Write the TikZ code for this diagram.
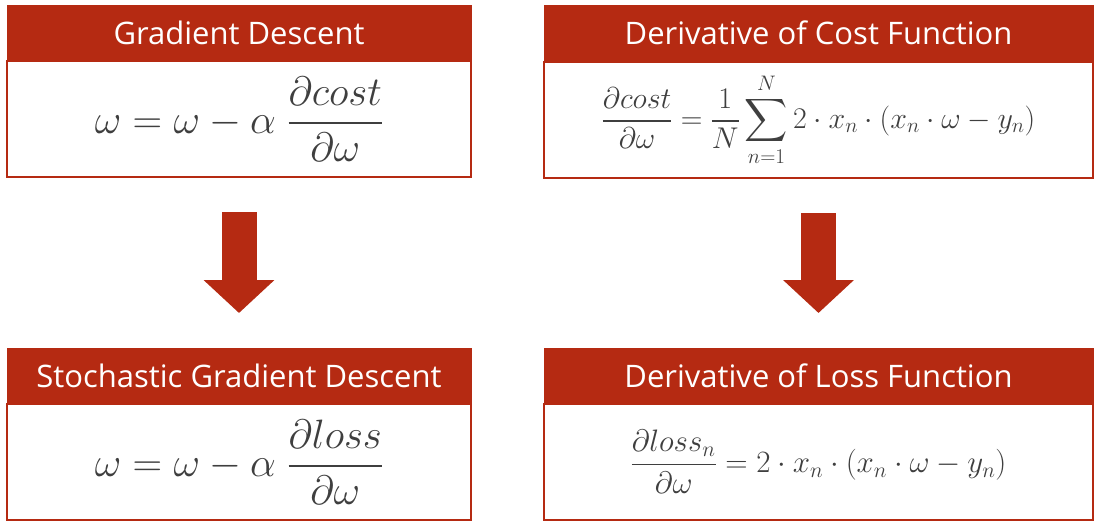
\RequirePackage{fix-cm}
\documentclass[tikz,border=0pt]{standalone}
\usepackage{amsmath,amssymb}
\usepackage{fontspec}
\setmainfont{Open Sans}
\usepackage{tikz}
\usetikzlibrary{arrows.meta,positioning}
\definecolor{boxred}{HTML}{B52A12}
\definecolor{mathgray}{HTML}{3F3F3F}

\begin{document}
\begin{tikzpicture}[x=1pt,y=-1pt,
		head/.style={fill=boxred,draw=boxred,line width=1pt,text=white,inner sep=0pt,
			minimum height=55pt,font=\fontsize{31}{34}\selectfont},
		formbox/.style={draw=boxred,line width=2pt,fill=white,inner sep=0pt,
			minimum height=116pt,text=mathgray},
		bigarrow/.style={boxred,line width=35pt,-{Triangle[width=69pt,length=33pt]}}]
		
		\useasboundingbox (0,0) rectangle (1099,525);
		
		% left column
		\node[formbox,minimum width=464pt,anchor=north] (gdbody) at (239,60)
		{\fontsize{41}{45}\selectfont $\omega = \omega - \alpha\;\dfrac{\partial cost}{\partial\omega}$};
		\node[head,minimum width=464pt,anchor=north] (gdhead) at (239,5) {Gradient Descent};
		
		\node[formbox,minimum width=464pt,anchor=north] (sgdbody) at (239,403)
		{\fontsize{41}{45}\selectfont $\omega = \omega - \alpha\;\dfrac{\partial loss}{\partial\omega}$};
		\node[head,minimum width=464pt,anchor=north] (sgdhead) at (239,348) {Stochastic Gradient Descent};
		
		% right column
		\node[formbox,minimum width=549pt,anchor=north] (costbody) at (818.5,61)
		{\fontsize{30}{33}\selectfont $\dfrac{\partial cost}{\partial\omega}=\dfrac{1}{N}\displaystyle\sum_{n=1}^{N}2\cdot x_n\cdot(x_n\cdot\omega-y_n)$};
		\node[head,minimum width=549pt,anchor=north] (costhead) at (818.5,5) {Derivative of Cost Function};
		
		\node[formbox,minimum width=549pt,anchor=north] (lossbody) at (818.5,403)
		{\fontsize{31}{34}\selectfont $\dfrac{\partial loss_n}{\partial\omega}=2\cdot x_n\cdot(x_n\cdot\omega-y_n)$};
		\node[head,minimum width=549pt,anchor=north] (losshead) at (818.5,348) {Derivative of Loss Function};
		
		% arrows
		\coordinate (a1top) at ([yshift=-34pt]gdbody.south);
		\coordinate (a1tip) at ([yshift=35pt]sgdhead.north);
		\coordinate (a2top) at ([yshift=-34pt]costbody.south);
		\coordinate (a2tip) at ([yshift=35pt]losshead.north);
		\draw[bigarrow] (a1top) -- (a1tip);
		\draw[bigarrow] (a2top) -- (a2tip);
		
\end{tikzpicture}
\end{document}
